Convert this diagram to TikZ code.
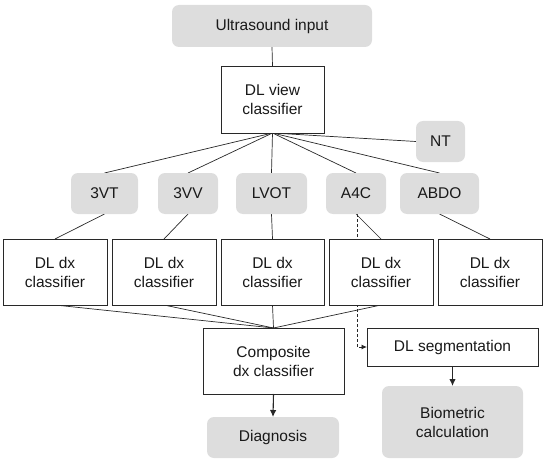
\documentclass[tikz,border=0pt]{standalone}
\usepackage{fontspec}
\setmainfont{Liberation Sans}
\usetikzlibrary{arrows.meta,backgrounds}
\definecolor{boxgray}{RGB}{221,221,221}
\definecolor{linegray}{RGB}{40,40,40}
\definecolor{textgray}{RGB}{25,25,25}
\begin{document}
\begin{tikzpicture}[x=1pt,y=-1pt,
  every node/.style={font=\fontsize{15.5}{19}\selectfont, text=textgray, align=center, inner sep=0pt, outer sep=0pt},
  graybox/.style={fill=boxgray, rounded corners=7pt, minimum height=41pt},
  whitebox/.style={draw=linegray, line width=0.9pt, fill=white},
  link/.style={draw=linegray, line width=0.7pt},
  arrowlink/.style={draw=linegray, line width=1.1pt, -{Latex[length=7pt,width=6.5pt]}},
  dashlink/.style={draw=linegray, line width=0.8pt, dash pattern=on 3pt off 2pt, -{Latex[length=5.5pt,width=5pt]}}
]
\useasboundingbox (0,0) rectangle (554,468);
% top
\node[graybox, minimum width=200pt, minimum height=42pt] (us) at (272,26) {Ultrasound input};
\node[whitebox, minimum width=103pt, minimum height=67pt] (view) at (272.5,99.5) {DL view\\classifier};
\node[graybox, minimum width=49pt] (nt) at (440.5,141.5) {NT};
% views
\node[graybox, minimum width=67pt] (vt) at (104.5,193.5) {3VT};
\node[graybox, minimum width=60pt] (vv) at (188,193.5) {3VV};
\node[graybox, minimum width=71pt] (lvot) at (271.5,193.5) {LVOT};
\node[graybox, minimum width=60pt] (a4c) at (356,193.5) {A4C};
\node[graybox, minimum width=79pt] (abdo) at (439.5,193.5) {ABDO};
% dx classifiers
\node[whitebox, minimum width=104pt, minimum height=66pt] (dxa) at (55,272) {DL dx\\classifier};
\node[whitebox, minimum width=104pt, minimum height=66pt] (dxb) at (164,272) {DL dx\\classifier};
\node[whitebox, minimum width=103pt, minimum height=66pt] (dxc) at (272.5,272) {DL dx\\classifier};
\node[whitebox, minimum width=104pt, minimum height=66pt] (dxd) at (381,272) {DL dx\\classifier};
\node[whitebox, minimum width=104pt, minimum height=66pt] (dxe) at (490,272) {DL dx\\classifier};
% bottom
\node[whitebox, minimum width=141pt, minimum height=66pt] (comp) at (273.5,361) {Composite\\dx classifier};
\node[whitebox, minimum width=171pt, minimum height=38pt] (seg) at (452.5,347) {DL segmentation};
\node[graybox, minimum width=132pt] (diag) at (273,437.5) {Diagnosis};
\node[graybox, minimum width=141pt, minimum height=72pt] (bio) at (452.5,422) {Biometric\\calculation};
\coordinate (bend) at (357,347);
\begin{scope}[on background layer]
\draw[link] (us.south) -- (view.north);
\foreach \t in {vt,vv,lvot,a4c,abdo} \draw[link] (view.south) -- (\t.north);
\draw[link] (view.south) -- (nt.west);
\draw[link] (vt.south) -- (dxa.north);
\draw[link] (vv.south) -- (dxb.north);
\draw[link] (lvot.south) -- (dxc.north);
\draw[link] (a4c.south) -- (dxd.north);
\draw[link] (abdo.south) -- (dxe.north);
\foreach \d in {dxa,dxb,dxc,dxd} \draw[link] (\d.south) -- (comp.north);
\draw[dashlink] (a4c.south -| bend) -- (bend) -- (seg.west);
\end{scope}
\draw[arrowlink] (comp.south) -- (diag.north);
\draw[arrowlink] (seg.south) -- (bio.north);
\end{tikzpicture}
\end{document}
